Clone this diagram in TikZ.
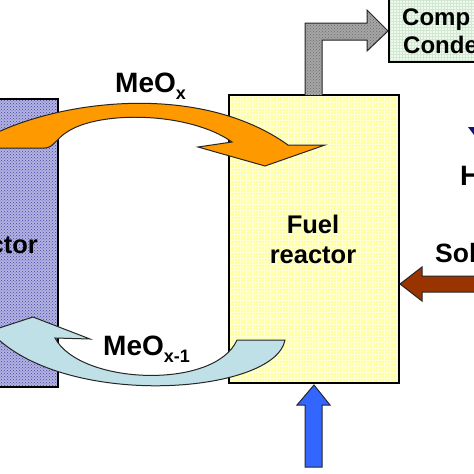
\documentclass[tikz,border=0pt]{standalone}
\usepackage{fontspec}
\setmainfont{Liberation Sans}
\usetikzlibrary{patterns}
\definecolor{airfill}{RGB}{178,178,226}
\definecolor{airpat}{RGB}{70,70,165}
\definecolor{fuelfill}{RGB}{255,255,160}
\definecolor{fuelpat}{RGB}{255,255,215}
\definecolor{compfill}{RGB}{238,250,238}
\definecolor{comppat}{RGB}{210,232,210}
\definecolor{orangeA}{RGB}{255,153,0}
\definecolor{lblue}{RGB}{190,224,230}
\definecolor{blueA}{RGB}{51,102,255}
\definecolor{brownA}{RGB}{153,51,0}
\definecolor{grayA}{RGB}{165,165,165}
\definecolor{grayP}{RGB}{110,110,110}
\definecolor{navyA}{RGB}{20,20,110}
\begin{document}
\begin{tikzpicture}[x=1pt,y=-1pt,
  reactorbox/.style={draw=black,line width=1.7pt,inner sep=0pt,outer sep=0pt},
  blockarrow/.style={draw=black!85,line width=1pt,line join=miter},
  lbl/.style={inner sep=0pt,anchor=base west,font=\bfseries\fontsize{25.5}{28}\selectfont},
  lblbig/.style={lbl,font=\bfseries\fontsize{28}{30}\selectfont},
  lblsmall/.style={lbl,font=\bfseries\fontsize{24}{26}\selectfont}]
\useasboundingbox (0,0) rectangle (474,474);
\clip (0,0) rectangle (474,474);
\fill[white] (0,0) rectangle (474,474);

% reactors and box
\node[reactorbox, minimum width=63pt, minimum height=288pt,
  preaction={fill=airfill}, pattern=crosshatch dots, pattern color=airpat] (air) at (26.5,243) {};
\node[reactorbox, minimum width=170pt, minimum height=288pt,
  preaction={fill=fuelfill}, pattern=grid, pattern color=fuelpat] (fuel) at (314,239) {};
\node[reactorbox, line width=1.2pt, minimum width=101pt, minimum height=67pt,
  preaction={fill=compfill}, pattern=grid, pattern color=comppat] (comp) at (439.5,28.5) {};

% gray exhaust arrow
\path[blockarrow, preaction={fill=grayA}, pattern=crosshatch dots, pattern color=grayP]
  (305,95) -- (305,23) -- (367,23) -- (367,10) -- (388,31) -- (367,51) -- (367,40) -- (322,40) -- (322,95);

% orange arrow MeOx
\path[blockarrow, fill=orangeA]
  (-10,136) .. controls (60,100) and (200,82) .. (288,145) -- (325,145) -- (265,166) -- (198,147) -- (232,142)
  .. controls (190,112) and (100,110) .. (67,132) .. controls (57,138) and (53,148) .. (45,148) -- (-10,148) -- cycle;

% light blue arrow MeOx-1
\path[blockarrow, fill=lblue]
  (33,317) -- (90,339) -- (55,338) .. controls (80,385) and (215,390) .. (237,340) -- (285,340)
  .. controls (275,395) and (60,410) .. (-10,331) -- cycle;

% blue arrow from below
\path[blockarrow, fill=blueA]
  (314,385) -- (330,405) -- (322,405) -- (322,467) -- (305,467) -- (305,405) -- (297,405) -- cycle;

% brown arrow from right
\path[blockarrow, fill=brownA]
  (400,284) -- (422,267) -- (422,276) -- (480,276) -- (480,292) -- (422,292) -- (422,301) -- cycle;

% navy mark
\fill[navyA] (468,127) -- (484,127) -- (477,139) -- cycle;

% texts
\node[lblbig] (meox) at (115,92) {MeO\raisebox{-7pt}{\fontsize{18}{18}\selectfont x}};
\node[lblbig] (meox1) at (103,355) {MeO\raisebox{-7pt}{\fontsize{18}{18}\selectfont x-1}};
\node[lbl, anchor=base] (fuelA) at (313,233) {Fuel};
\node[lbl, anchor=base] (fuelB) at (313,263) {reactor};
\node[lbl, anchor=base east] (airB) at (38,253) {ctor};
\node[lblsmall] (compA) at (402,25) {Comp};
\node[lblsmall] (compB) at (403,53) {Conde};
\node[lbl, font=\bfseries\fontsize{26.5}{28}\selectfont] (sol) at (435,262) {Sol};
\node[lblbig] (hh) at (460,185) {H};
\end{tikzpicture}
\end{document}
